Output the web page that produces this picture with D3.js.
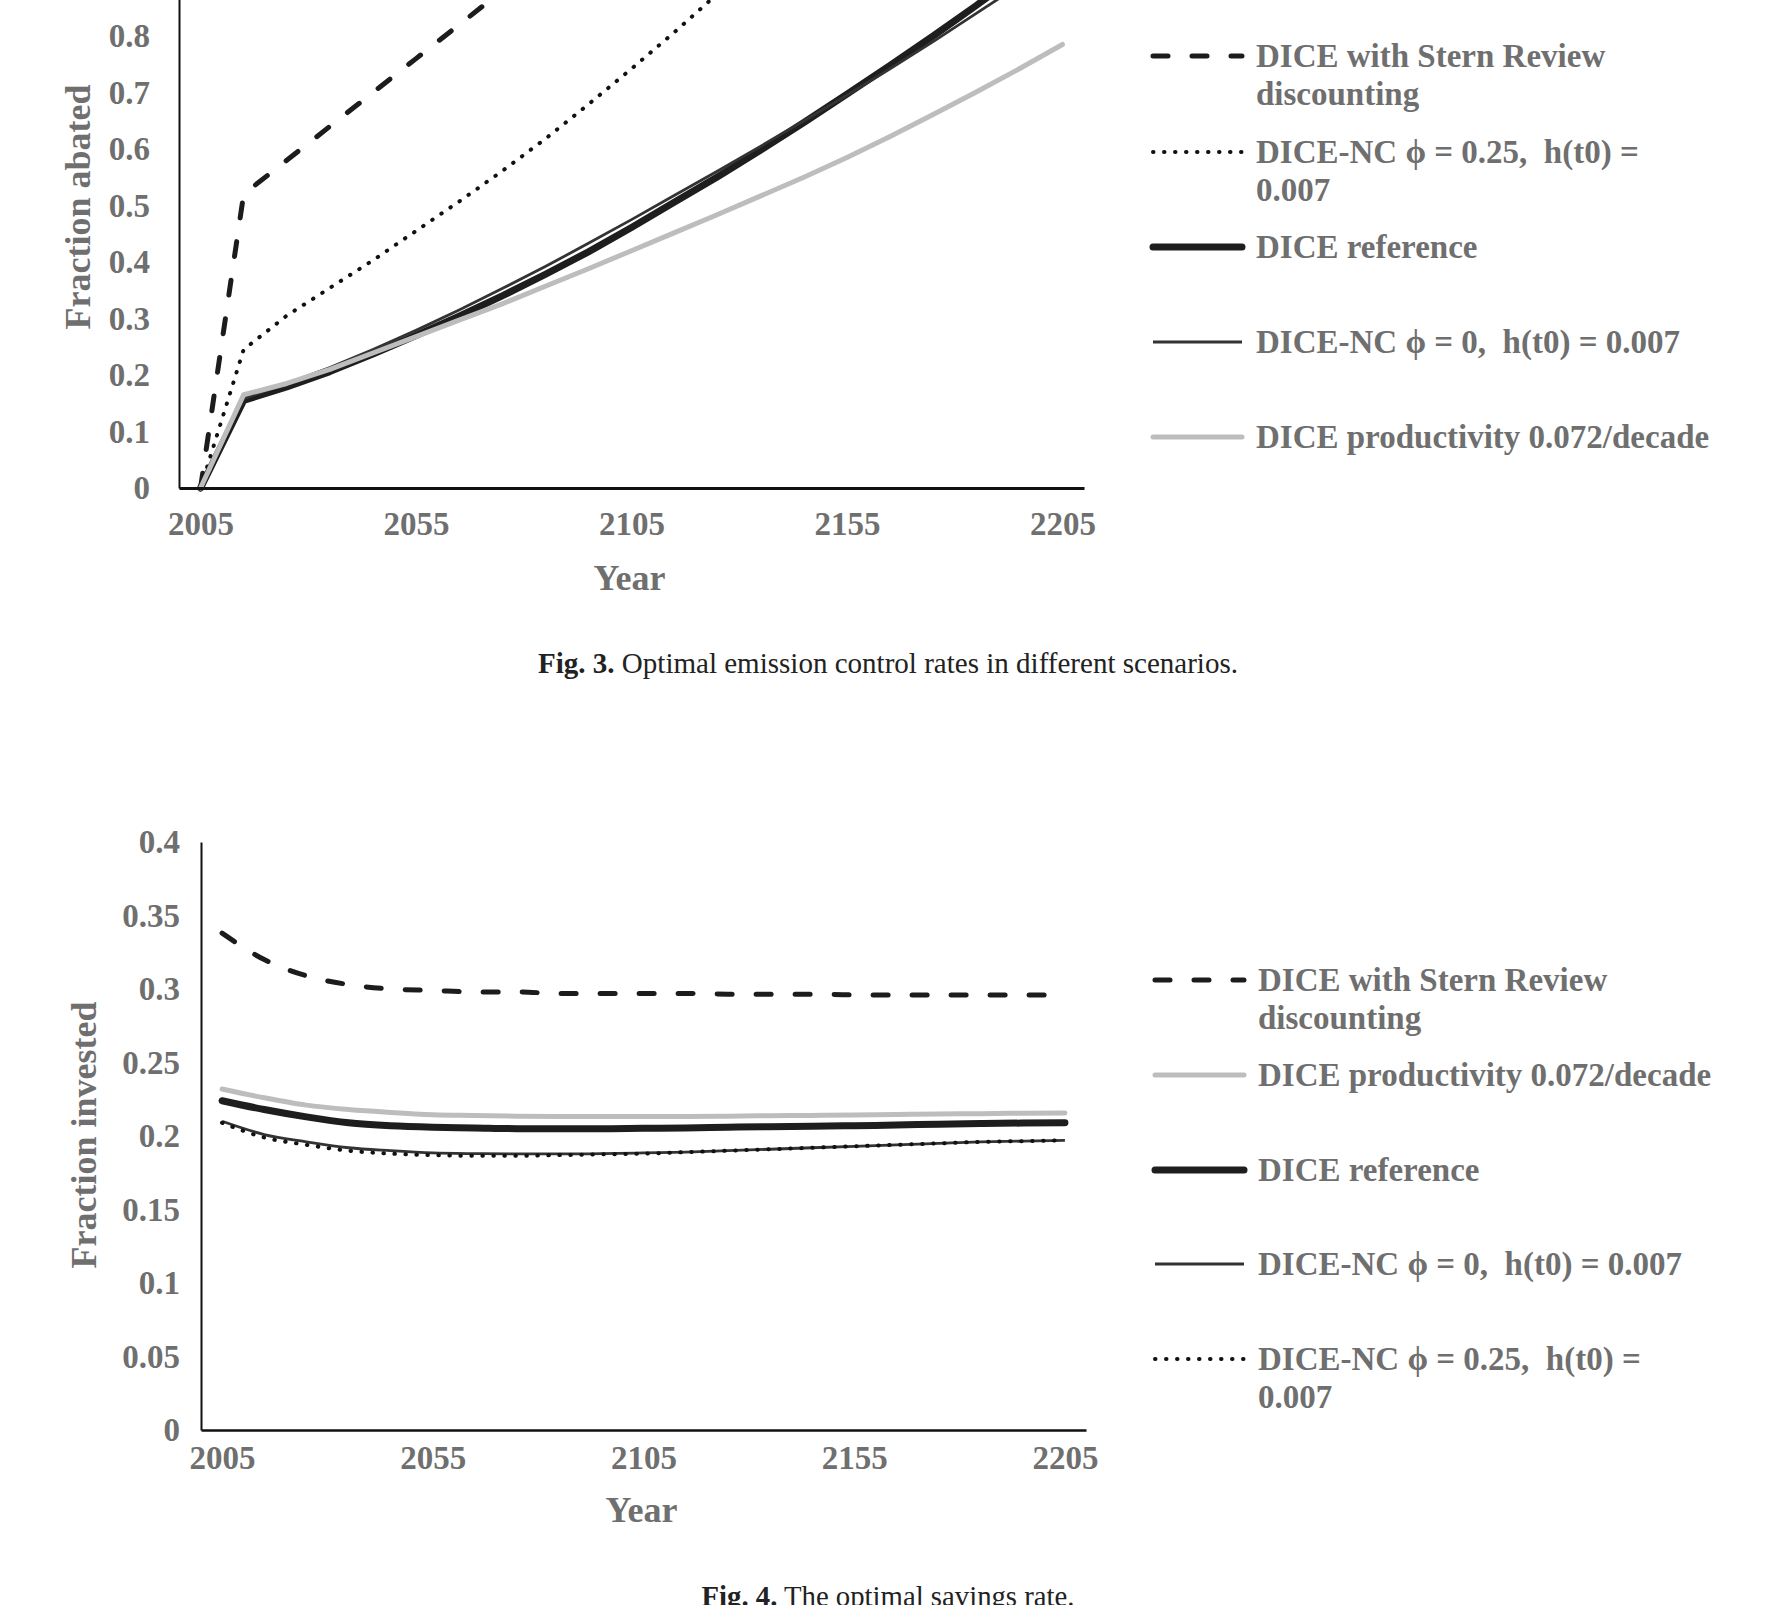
<!DOCTYPE html>
<html>
<head>
<meta charset="utf-8">
<script src="https://cdn.jsdelivr.net/npm/d3@7"></script>
<style>
  html, body { margin: 0; padding: 0; background: #fff; }
  svg { display: block; }
  text { font-family: "Liberation Serif", "Times New Roman", serif; }
</style>
</head>
<body>
<svg id="page" width="1789" height="1605"></svg>
<script>
// decades shown on both charts
const years = d3.range(2005, 2206, 10)
const yearLabels = ["2005", "2055", "2105", "2155", "2205"]

// Fig. 3 - fraction abated
const abSternValues = [0, 0.52, 0.58, 0.64, 0.70, 0.76, 0.82, 0.88, 0.94, 1.0, 1.0, 1.0, 1.0, 1.0, 1.0, 1.0, 1.0, 1.0, 1.0, 1.0, 1.0]
const abNc025Values = [0, 0.245, 0.305, 0.354, 0.403, 0.455, 0.507, 0.561, 0.618, 0.679, 0.742, 0.807, 0.875, 0.945, 1.0, 1.0, 1.0, 1.0, 1.0, 1.0, 1.0]
const abRefValues = [0, 0.155, 0.179, 0.206, 0.237, 0.27, 0.304, 0.34, 0.378, 0.418, 0.461, 0.506, 0.551, 0.598, 0.647, 0.697, 0.748, 0.80, 0.854, 0.91, 0.968]
const abNc0Values = [0, 0.158, 0.185, 0.213, 0.245, 0.279, 0.315, 0.353, 0.392, 0.433, 0.475, 0.518, 0.561, 0.605, 0.65, 0.695, 0.742, 0.79, 0.84, 0.89, 0.94]
const abProdValues = [0, 0.165, 0.185, 0.21, 0.239, 0.268, 0.297, 0.326, 0.357, 0.388, 0.42, 0.452, 0.484, 0.517, 0.55, 0.585, 0.622, 0.661, 0.701, 0.742, 0.785]
const abTicks = [0, 0.1, 0.2, 0.3, 0.4, 0.5, 0.6, 0.7, 0.8]

// Fig. 4 - fraction invested
const svSternValues = [0.338, 0.32, 0.309, 0.303, 0.300, 0.299, 0.298, 0.298, 0.297, 0.297, 0.297, 0.297, 0.2965, 0.2965, 0.2965, 0.296, 0.296, 0.296, 0.296, 0.296, 0.296]
const svProdValues = [0.232, 0.226, 0.221, 0.218, 0.216, 0.2145, 0.214, 0.2135, 0.2133, 0.2133, 0.2133, 0.2133, 0.2135, 0.2138, 0.214, 0.2143, 0.2146, 0.215, 0.2152, 0.2155, 0.2157]
const svRefValues = [0.224, 0.218, 0.213, 0.209, 0.207, 0.206, 0.2055, 0.205, 0.205, 0.205, 0.2052, 0.2055, 0.206, 0.2063, 0.2067, 0.207, 0.2075, 0.208, 0.2085, 0.2088, 0.209]
const svNc0Values = [0.21, 0.201, 0.196, 0.192, 0.19, 0.1885, 0.188, 0.1878, 0.1878, 0.188, 0.1885, 0.189, 0.19, 0.191, 0.192, 0.193, 0.194, 0.195, 0.196, 0.1965, 0.197]
const svNc025Values = [0.209, 0.199, 0.194, 0.19, 0.188, 0.187, 0.1865, 0.1865, 0.187, 0.1875, 0.188, 0.189, 0.19, 0.191, 0.192, 0.193, 0.194, 0.195, 0.196, 0.1965, 0.197]
const svTicks = [0, 0.05, 0.1, 0.15, 0.2, 0.25, 0.3, 0.35, 0.4]

const textGray = "#6f6f6f"
const styles = {
  stern: {stroke: "#1c1c1c", width: 5, dash: "15,24", cap: "round"},
  nc025: {stroke: "#111", width: 4, dash: "0.5,10.5", cap: "round"},
  ref: {stroke: "#1e1e1e", width: 7, dash: null, cap: "round"},
  nc0: {stroke: "#333", width: 2.8, dash: null, cap: "butt"},
  prod: {stroke: "#bdbdbd", width: 5, dash: null, cap: "round"}
}

const svg = d3.select("#page")

function drawChart(cfg) {
  const g = svg.append("g")
  const x = d3.scaleLinear().domain([2000, 2210]).range([cfg.left, cfg.right])
  const y = d3.scaleLinear().domain(cfg.yDomain).range([cfg.bottom, cfg.top])

  const line = d3.line()
    .x((d, i) => x(years[i]))
    .y(d => y(d))
    .curve(cfg.curve)

  cfg.series.forEach(s => {
    const st = styles[s.key]
    g.append("path")
      .datum(s.values)
      .attr("d", line)
      .attr("fill", "none")
      .attr("stroke", st.stroke)
      .attr("stroke-width", st.width)
      .attr("stroke-dasharray", st.dash)
      .attr("stroke-linecap", st.cap)
      .attr("stroke-linejoin", "round")
  })

  // axes, Excel style: no tick marks
  const yAxis = g.append("g")
    .attr("transform", `translate(${cfg.left},0)`)
    .call(d3.axisLeft(y).tickValues(cfg.ticks).tickSize(0).tickPadding(cfg.yPad).tickFormat(d3.format("")))
  yAxis.select(".domain").attr("stroke", "#111").attr("stroke-width", cfg.yAxisWidth)
  yAxis.selectAll("text")
    .attr("fill", textGray).attr("font-size", 33).attr("font-weight", "bold")
    .attr("font-family", "Liberation Serif, serif")

  const xAxis = g.append("g")
    .attr("transform", `translate(0,${cfg.bottom})`)
    .call(d3.axisBottom(x).tickValues(yearLabels.map(Number)).tickSize(0).tickPadding(cfg.xPad).tickFormat(d3.format("d")))
  xAxis.select(".domain").attr("stroke", "#111").attr("stroke-width", cfg.xAxisWidth)
  xAxis.selectAll("text")
    .attr("fill", textGray).attr("font-size", 33).attr("font-weight", "bold")
    .attr("font-family", "Liberation Serif, serif")

  g.append("text")
    .attr("x", (cfg.left + cfg.right) / 2 - 2)
    .attr("y", cfg.bottom + cfg.titleDy)
    .attr("text-anchor", "middle")
    .attr("fill", textGray).attr("font-size", 36).attr("font-weight", "bold")
    .text("Year")

  g.append("text")
    .attr("transform", `translate(${cfg.yTitleX},${cfg.yTitleY}) rotate(-90)`)
    .attr("text-anchor", "middle")
    .attr("fill", textGray).attr("font-size", 36).attr("font-weight", "bold")
    .text(cfg.yTitle)

  // legend
  const lg = g.append("g")
  cfg.legend.forEach(item => {
    const st = styles[item.key]
    lg.append("line")
      .attr("x1", cfg.legX + 3).attr("x2", cfg.legX + 92)
      .attr("y1", item.y).attr("y2", item.y)
      .attr("stroke", st.stroke)
      .attr("stroke-width", st.width)
      .attr("stroke-dasharray", st.dash)
      .attr("stroke-linecap", st.cap)
    item.lines.forEach((t, j) => {
      lg.append("text")
        .attr("x", cfg.legX + 106)
        .attr("y", item.y + 11 + j * 38)
        .attr("fill", textGray).attr("font-size", 33).attr("font-weight", "bold")
        .style("white-space", "pre")
        .text(t)
    })
  })

  // caption
  const cap = svg.append("text")
    .attr("x", 888).attr("y", cfg.capY)
    .attr("text-anchor", "middle")
    .attr("font-size", 30)
    .attr("fill", "#222")
    .attr("textLength", cfg.capWidth)
    .attr("lengthAdjust", "spacingAndGlyphs")
  cap.append("tspan").attr("font-weight", "bold").text(cfg.capBold)
  cap.append("tspan").text(cfg.capText)
}

drawChart({
  left: 179, right: 1084, bottom: 488, top: 488 - 565 * 1.0, yDomain: [0, 1],
  ticks: abTicks, yPad: 29, xPad: 24, titleDy: 102, yAxisWidth: 2, xAxisWidth: 3,
  curve: d3.curveLinear,
  series: [
    {key: "stern", values: abSternValues},
    {key: "nc025", values: abNc025Values},
    {key: "ref", values: abRefValues},
    {key: "nc0", values: abNc0Values},
    {key: "prod", values: abProdValues}
  ],
  yTitle: "Fraction abated", yTitleX: 90, yTitleY: 207,
  legX: 1150,
  legend: [
    {key: "stern", y: 56, lines: ["DICE with Stern Review", "discounting"]},
    {key: "nc025", y: 152, lines: ["DICE-NC \u03D5 = 0.25,  h(t0) =", "0.007"]},
    {key: "ref", y: 247, lines: ["DICE reference"]},
    {key: "nc0", y: 342, lines: ["DICE-NC \u03D5 = 0,  h(t0) = 0.007"]},
    {key: "prod", y: 437, lines: ["DICE productivity 0.072/decade"]}
  ],
  capY: 673, capWidth: 700,
  capBold: "Fig. 3.", capText: " Optimal emission control rates in different scenarios."
})

drawChart({
  left: 201, right: 1086, bottom: 1430, top: 842, yDomain: [0, 0.4],
  ticks: svTicks, yPad: 21, xPad: 16, titleDy: 92, yAxisWidth: 2, xAxisWidth: 2.5,
  curve: d3.curveMonotoneX,
  series: [
    {key: "stern", values: svSternValues},
    {key: "prod", values: svProdValues},
    {key: "ref", values: svRefValues},
    {key: "nc0", values: svNc0Values},
    {key: "nc025", values: svNc025Values}
  ],
  yTitle: "Fraction invested", yTitleX: 96, yTitleY: 1135,
  legX: 1152,
  legend: [
    {key: "stern", y: 980, lines: ["DICE with Stern Review", "discounting"]},
    {key: "prod", y: 1075, lines: ["DICE productivity 0.072/decade"]},
    {key: "ref", y: 1170, lines: ["DICE reference"]},
    {key: "nc0", y: 1264, lines: ["DICE-NC \u03D5 = 0,  h(t0) = 0.007"]},
    {key: "nc025", y: 1359, lines: ["DICE-NC \u03D5 = 0.25,  h(t0) =", "0.007"]}
  ],
  capY: 1606, capWidth: 373,
  capBold: "Fig. 4.", capText: " The optimal savings rate."
})
</script>
</body>
</html>
